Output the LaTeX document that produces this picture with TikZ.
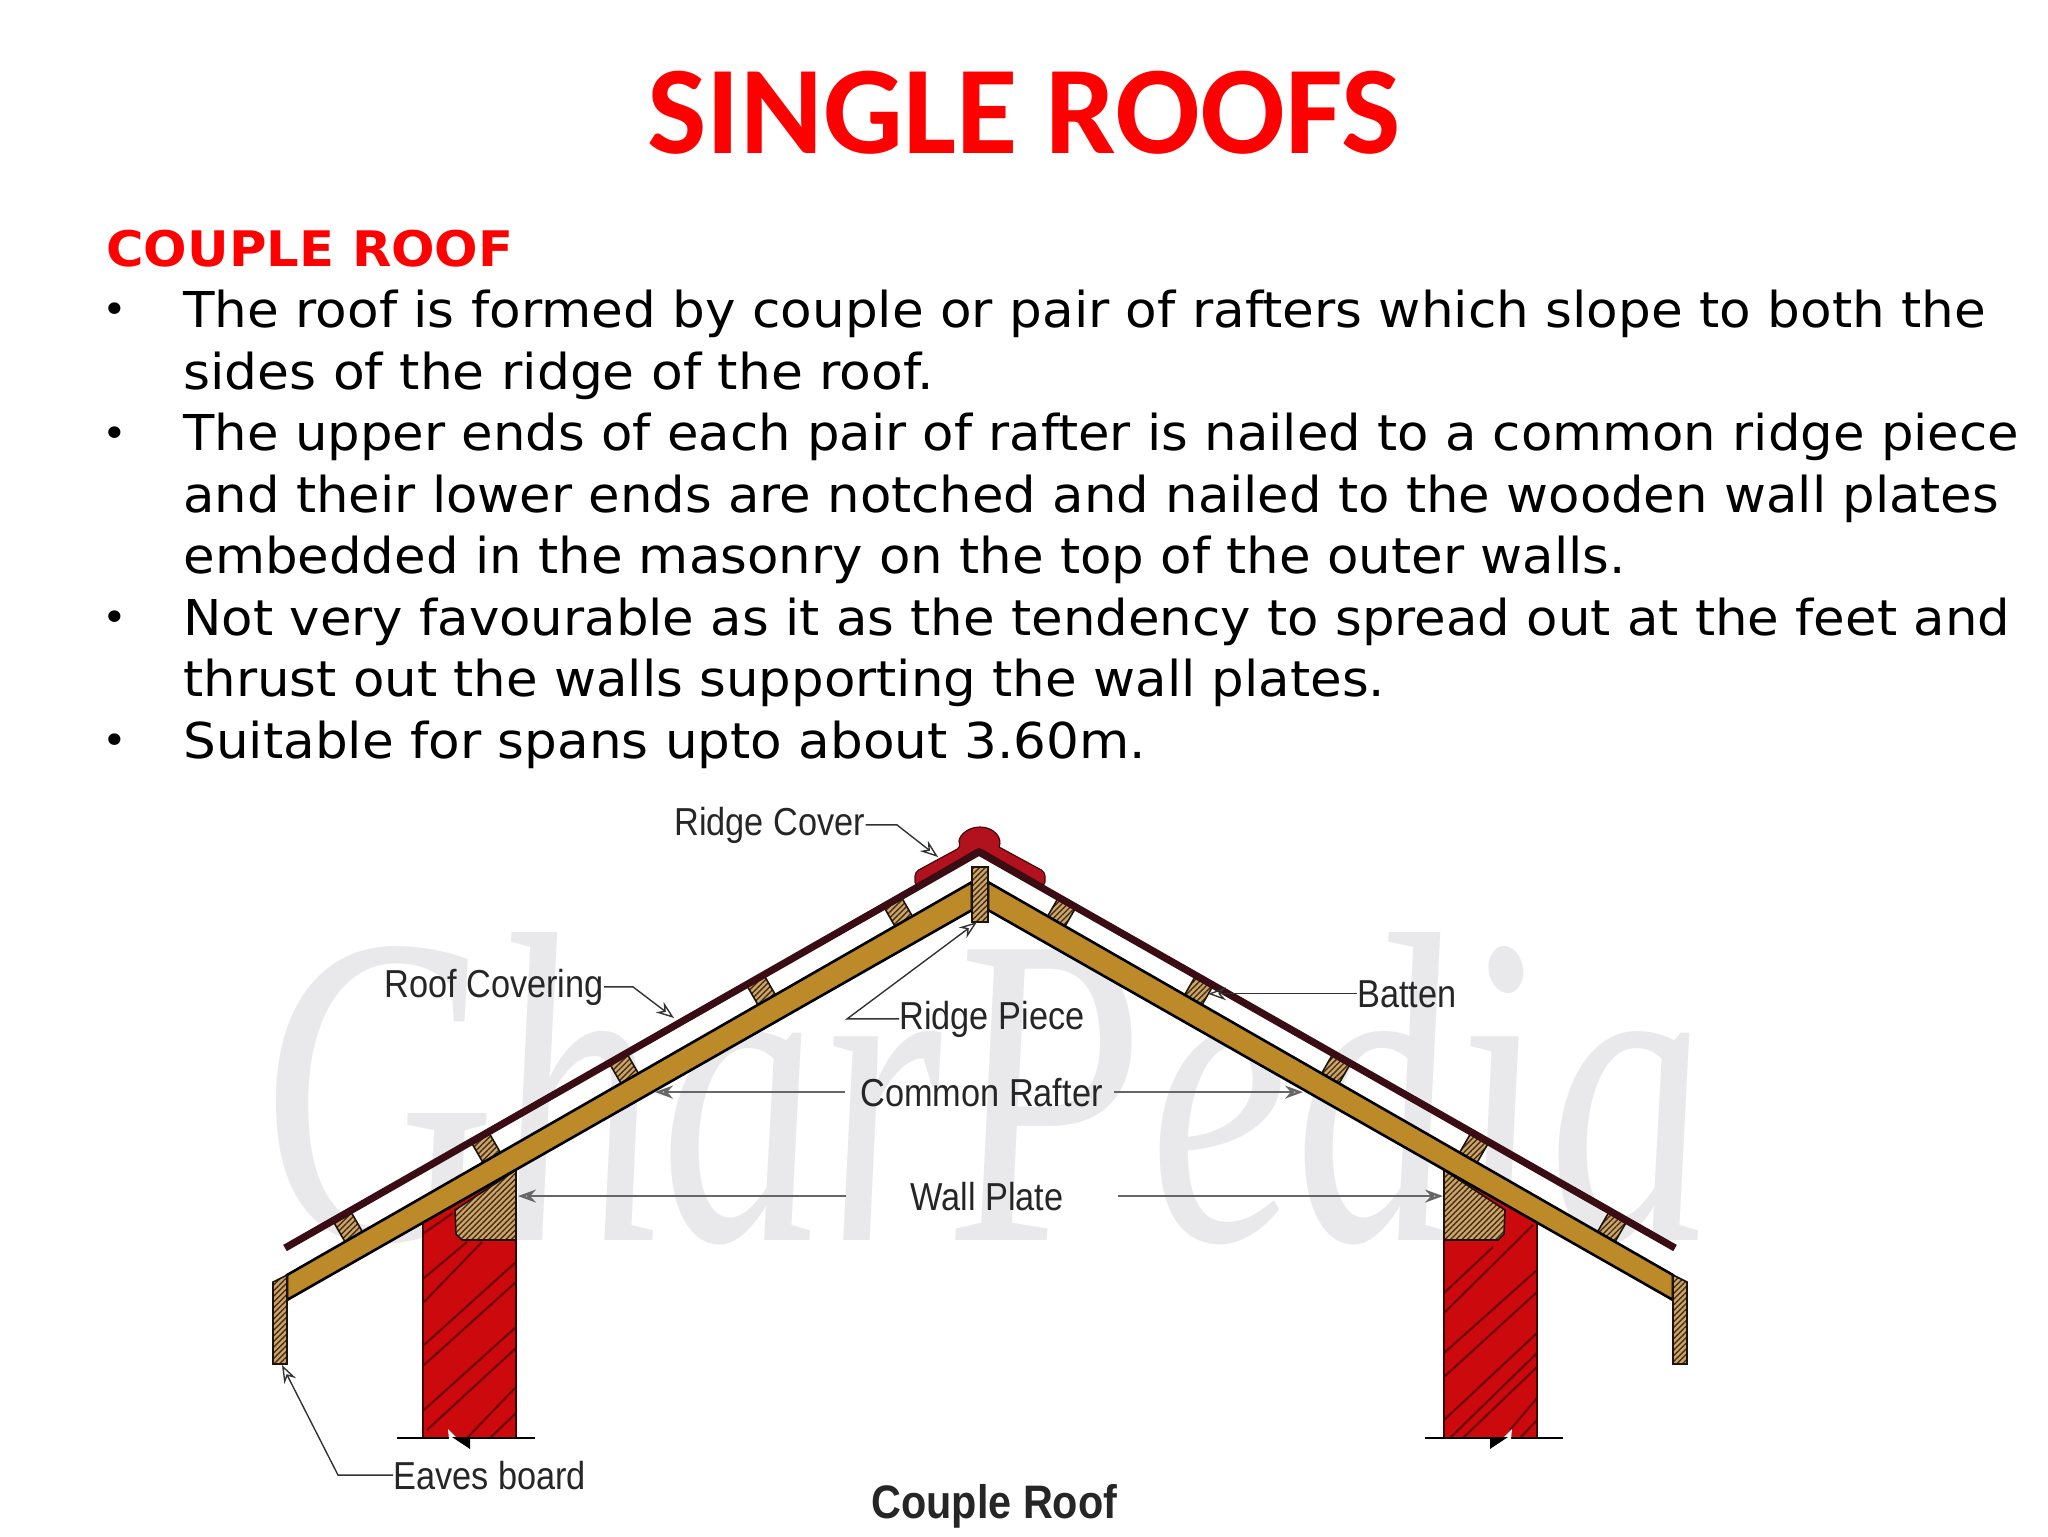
\documentclass[tikz,border=0pt]{standalone}
\usepackage{fontspec}
\usepackage{graphicx}
\usepackage{tikz}
\usetikzlibrary{arrows.meta, positioning, patterns.meta}
\setmainfont[FakeStretch=1.045]{DejaVu Sans}
\newfontfamily\titlefont{Carlito}
\newfontfamily\labelfont[FakeStretch=0.88]{Liberation Sans}
\newfontfamily\markfont[FakeStretch=0.735, FakeSlant=-0.08]{Liberation Serif Italic}

\begin{document}
\begin{tikzpicture}[x=0.5pt, y=-0.5pt,
    bodytext/.style={anchor=base west, inner sep=0pt, font=\fontsize{24.7}{28}\selectfont},
    partlabel/.style={anchor=base west, inner sep=0pt, text=black!85, font=\labelfont\fontsize{19.5}{22}\selectfont},
    leader/.style={draw=black!80, line width=0.7pt, -{Stealth[open, length=9pt, width=6.5pt]}},
    heavyleader/.style={draw=black!60, line width=1.2pt, -{Stealth[open, length=9pt, width=6.5pt]}},
    woodhatch/.style={draw=black!85!brown, line width=0.8pt, preaction={fill=woodtan},
      pattern={Lines[angle=45, distance=2pt, line width=0.7pt]}, pattern color=black!65!brown}]
  % Define colors
  \definecolor{titlered}{RGB}{255,0,0}
  \definecolor{woodtan}{RGB}{205,165,105}
  \definecolor{raftergold}{RGB}{188,138,40}
  \definecolor{wallred}{RGB}{204,10,14}
  \definecolor{coverred}{RGB}{178,18,30}
  \definecolor{covermaroon}{RGB}{58,12,20}
  \definecolor{markgray}{RGB}{233,233,236}

  \useasboundingbox (0,0) rectangle (2048,1536);

  % Title and heading
  \node[anchor=base west, inner sep=0pt, text=titlered, font=\titlefont\bfseries\fontsize{62.8}{70}\selectfont] (title) at (647,153) {SINGLE ROOFS};
  \node[bodytext, text=titlered, font=\bfseries\fontsize{24.5}{28}\selectfont] (heading) at (106,266.7) {COUPLE ROOF};

  % Body lines
  \foreach \i/\y/\sx/\txt in {
    1/327.5/1/{The roof is formed by couple or pair of rafters which slope to both the},
    2/389/1.005/{sides of the ridge of the roof.},
    3/450.5/0.9936/{The upper ends of each pair of rafter is nailed to a common ridge piece},
    4/512/0.9936/{and their lower ends are notched and nailed to the wooden wall plates},
    5/573.5/0.9955/{embedded in the masonry on the top of the outer walls.},
    6/635/0.995/{Not very favourable as it as the tendency to spread out at the feet and},
    7/696.5/0.9957/{thrust out the walls supporting the wall plates.},
    8/758/1/{Suitable for spans upto about 3.60m.}
  } {
    \node[bodytext] (line\i) at (183,\y) {\scalebox{\sx}[1]{\txt}};
  }
  \foreach \i/\y in {1/323.5, 3/447, 6/631.5, 8/754.5} {
    \node[bodytext, font=\fontsize{20}{24}\selectfont] (bullet\i) at (102,\y) {•};
  }

  % Watermark
  \node[anchor=base west, inner sep=0pt, text=markgray, font=\markfont\fontsize{222}{222}\selectfont] (watermark) at (268,1240) {GharPedia};

  % Walls
  \foreach \mir/\off in {1/0, -1/1960} {
    \begin{scope}[xshift=\off*0.5pt, xscale=\mir]
      \fill[wallred] (423,1222) -- (516,1170) -- (516,1438) -- (423,1438) -- cycle;
    \end{scope}
  }

  % Wall hatching
  \foreach \ax/\ay/\bx/\by in {
    424/1233/453/1213, 424/1278/467/1242, 424/1302/482/1242, 424/1345/516/1262,
    424/1365/516/1282, 424/1410/516/1327, 427/1430/516/1348, 467/1438/516/1387,
    490/1438/516/1413,
    1444/1293/1493/1247, 1444/1313/1533/1225, 1444/1353/1537/1270, 1444/1377/1537/1292,
    1444/1420/1537/1333, 1450/1438/1537/1353, 1463/1438/1537/1367, 1510/1430/1537/1398,
    1520/1438/1537/1420
  } {
    \draw[black!45!wallred, line width=1.1pt] (\ax,\ay) -- (\bx,\by);
  }

  % One half of the roof, drawn twice
  \foreach \mir/\off in {1/0, -1/1960} {
    \begin{scope}[xshift=\off*0.5pt, xscale=\mir]
      % Wall edges and base line
      \draw[black!70!wallred, line width=1.2pt] (423,1222) -- (423,1438) (516,1170) -- (516,1438);
      \draw[black, line width=1pt] (397,1438) -- (535,1438);
      \fill[white] (448,1429) -- (458,1439) -- (449,1439) -- cycle;
      \fill[black] (452,1437) -- (470,1449) -- (470,1437) -- cycle;
      % Wall plate
      \draw[woodhatch] (455,1210) -- (516,1170) -- (516,1240) -- (462,1240) -- (456,1234) -- cycle;
      % Battens
      \foreach \bx in {349, 487, 625, 762, 899} {
        \pgfmathsetmacro\by{1228-0.5735*(\bx-350)}
        \draw[woodhatch] ({\bx-14.7},{\by-5.4}) -- ({\bx+2.7},{\by-15.4}) -- ({\bx+14.7},{\by+5.4}) -- ({\bx-2.7},{\by+15.4}) -- cycle;
      }
      % Rafter
      \draw[fill=raftergold, draw=black, line width=1.3pt] (287,1275) -- (972,882) -- (972,910) -- (287,1300) -- cycle;
      % Eaves board
      \draw[woodhatch] (273,1282) -- (287,1275) -- (287,1364) -- (273,1364) -- cycle;
    \end{scope}
  }

  % Ridge cover
  \draw[fill=coverred, draw=black!60!coverred, line width=0.6pt, rounded corners=2pt] (915,886) -- (915,872) -- (961,847)
    [sharp corners] .. controls (957,838) and (966,827) .. (980,827)
    .. controls (994,827) and (1003,838) .. (999,847)
    [rounded corners=2pt] -- (1045,872) -- (1045,886) -- (979,848) -- cycle;

  % Roof covering
  \draw[covermaroon, line width=3.6pt] (285,1248) -- (979,852) -- (1675,1248);

  % Ridge piece
  \draw[woodhatch] (972,867) rectangle (988,922);

  % Part labels
  \node[partlabel] (ridgecover) at (674,835) {Ridge Cover};
  \node[partlabel] (roofcovering) at (384,997) {Roof Covering};
  \node[partlabel] (batten) at (1357,1007) {Batten};
  \node[partlabel] (ridgepiece) at (899,1029) {Ridge Piece};
  \node[partlabel] (commonrafter) at (860,1106) {Common Rafter};
  \node[partlabel] (wallplate) at (910,1210) {Wall Plate};
  \node[partlabel] (eavesboard) at (393,1489) {Eaves board};
  \node[anchor=base west, inner sep=0pt, text=black!85, font=\labelfont\bfseries\fontsize{23.5}{26}\selectfont] (coupleroof) at (871,1518) {Couple Roof};

  % Leader ends
  \coordinate (rcbend) at (897,823);
  \coordinate (rctip) at (938,857);
  \coordinate (rvbend) at (633,985);
  \coordinate (rvtip) at (674,1018);
  \coordinate (battip) at (1208,993);
  \coordinate (rpbend) at (847,1018);
  \coordinate (rptip) at (977,922);
  \coordinate (crleft) at (655,1092);
  \coordinate (crright) at (1303,1092);
  \coordinate (wpleft) at (518,1195);
  \coordinate (wpright) at (1443,1195);
  \coordinate (ebbend) at (338,1477);
  \coordinate (ebtip) at (282,1365);

  % Leaders
  \draw[leader] (ridgecover.east) -- (ridgecover.east -| rcbend) -- (rctip);
  \draw[leader] (roofcovering.east) -- (roofcovering.east -| rvbend) -- (rvtip);
  \draw[leader] (batten.west) -- (batten.west -| battip);
  \draw[leader] (ridgepiece.west) -- (ridgepiece.west -| rpbend) -- (rptip);
  \draw[heavyleader] ([xshift=-7.5pt]commonrafter.west) -- (commonrafter.west -| crleft);
  \draw[heavyleader] ([xshift=5.5pt]commonrafter.east) -- (commonrafter.east -| crright);
  \draw[heavyleader] ([xshift=-32pt]wallplate.west) -- (wallplate.west -| wpleft);
  \draw[heavyleader] ([xshift=27pt]wallplate.east) -- (wallplate.east -| wpright);
  \draw[leader] (eavesboard.west) -- (eavesboard.west -| ebbend) -- (ebtip);
\end{tikzpicture}
\end{document}
